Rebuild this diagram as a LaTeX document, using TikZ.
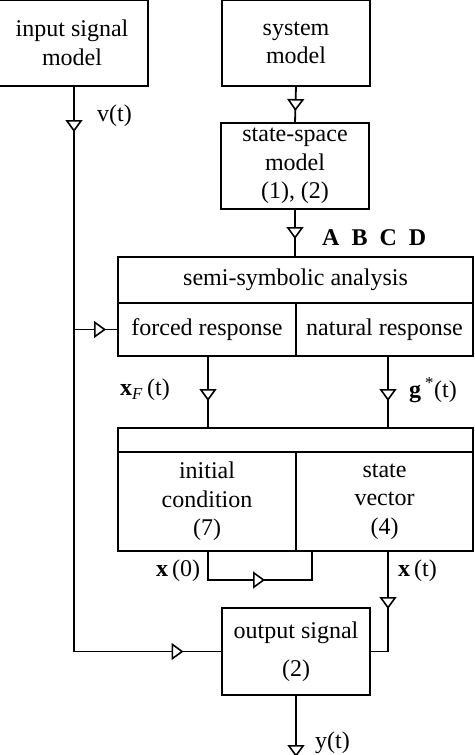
\documentclass[tikz,border=0pt]{standalone}
\usepackage{fontspec}
\setmainfont{Liberation Serif}
\usetikzlibrary{arrows.meta,decorations.markings,calc}
\tikzset{
  tri/.tip={Triangle[length=12pt,width=17pt,fill=white,line width=1.6pt]},
  box/.style={draw,line width=1.8pt,inner sep=0pt,outer sep=0pt,align=center,
    font=\fontsize{24}{28.5}\selectfont},
  conn/.style={line width=1.8pt},
  tipat/.style={postaction={decorate,decoration={markings,mark=at position #1 with {\arrow{tri}}}}},
  lbl/.style={inner sep=0pt,font=\fontsize{24}{28}\selectfont}
}
\begin{document}
\begin{tikzpicture}[x=1pt,y=-1pt]
\useasboundingbox (0,0) rectangle (474,755);
\clip (0,0) rectangle (474,755);
% boxes
\node[box,minimum width=152pt,minimum height=86pt] (input) at (72,43) {input signal\\model};
\node[box,minimum width=148pt,minimum height=86pt] (system) at (296,43) {system\\model};
\node[box,minimum width=148pt,minimum height=86pt] (ss) at (295,166) {state-space\\model\\(1), (2)};
\node[box,minimum width=355pt,minimum height=46pt] (semi) at (295.5,280) {semi-symbolic analysis};
\node[box,minimum width=178pt,minimum height=53pt] (forced) at (207,329.5) {forced response};
\node[box,minimum width=177pt,minimum height=53pt] (natural) at (384.5,329.5) {natural response};
\node[box,minimum width=355pt,minimum height=24pt] (lowtop) at (295.5,440) {};
\node[box,minimum width=178pt,minimum height=99pt] (initial) at (207,501.5) {initial\\condition\\(7)};
\node[box,minimum width=177pt,minimum height=99pt] (statevec) at (384.5,501.5) {state\\vector\\(4)};
\node[box,minimum width=148pt,minimum height=87pt] (output) at (296,651.5) {output signal\\[10pt](2)};
\coordinate (yend) at (296,775);
% connectors
\draw[conn,tipat=46pt,tipat=675pt] ([xshift=2pt]input.south) |- (output.west);
\draw[conn,tipat=32pt] ([xshift=2pt]input.south |- forced.west) -- (forced.west);
\draw[conn,tipat=25pt] (system.south) -- (ss.north);
\draw[conn,tipat=30pt] (ss.north |- ss.south) -- (ss.north |- semi.north);
\draw[conn,tipat=45pt] ([xshift=1pt]forced.south) -- ([xshift=1pt]lowtop.north -| forced.south);
\draw[conn,tipat=45pt] ([xshift=3.5pt]natural.south) -- ([xshift=3.5pt]lowtop.north -| natural.south);
\draw[conn,tipat=86pt] ([xshift=1pt]initial.south) -- ++(0,29) -| ([xshift=16pt]statevec.south west);
\draw[conn,tipat=58pt] ([xshift=3.5pt]statevec.south) |- (output.east);
\draw[conn,tipat=62pt] (output.south) -- (yend);
% labels
\node[lbl,anchor=west] (lv) at (97,116) {v(t)};
\node[lbl,anchor=west,font=\fontsize{24}{28}\selectfont\bfseries] (labcd) at (322,238) {A~~B~~C~~D};
\node[lbl,anchor=west] (lxf) at (120,390) {\textbf{x}\textsubscript{\textit{F}}\,(t)};
\node[lbl,anchor=west] (lg) at (409,390) {\textbf{g}\,\textsuperscript{*}(t)};
\node[lbl,anchor=west] (lx0) at (156,571) {\textbf{x}\,(0)};
\node[lbl,anchor=west] (lxt) at (398,571) {\textbf{x}\,(t)};
\node[lbl,anchor=west] (ly) at (315,743) {y(t)};
\end{tikzpicture}
\end{document}
